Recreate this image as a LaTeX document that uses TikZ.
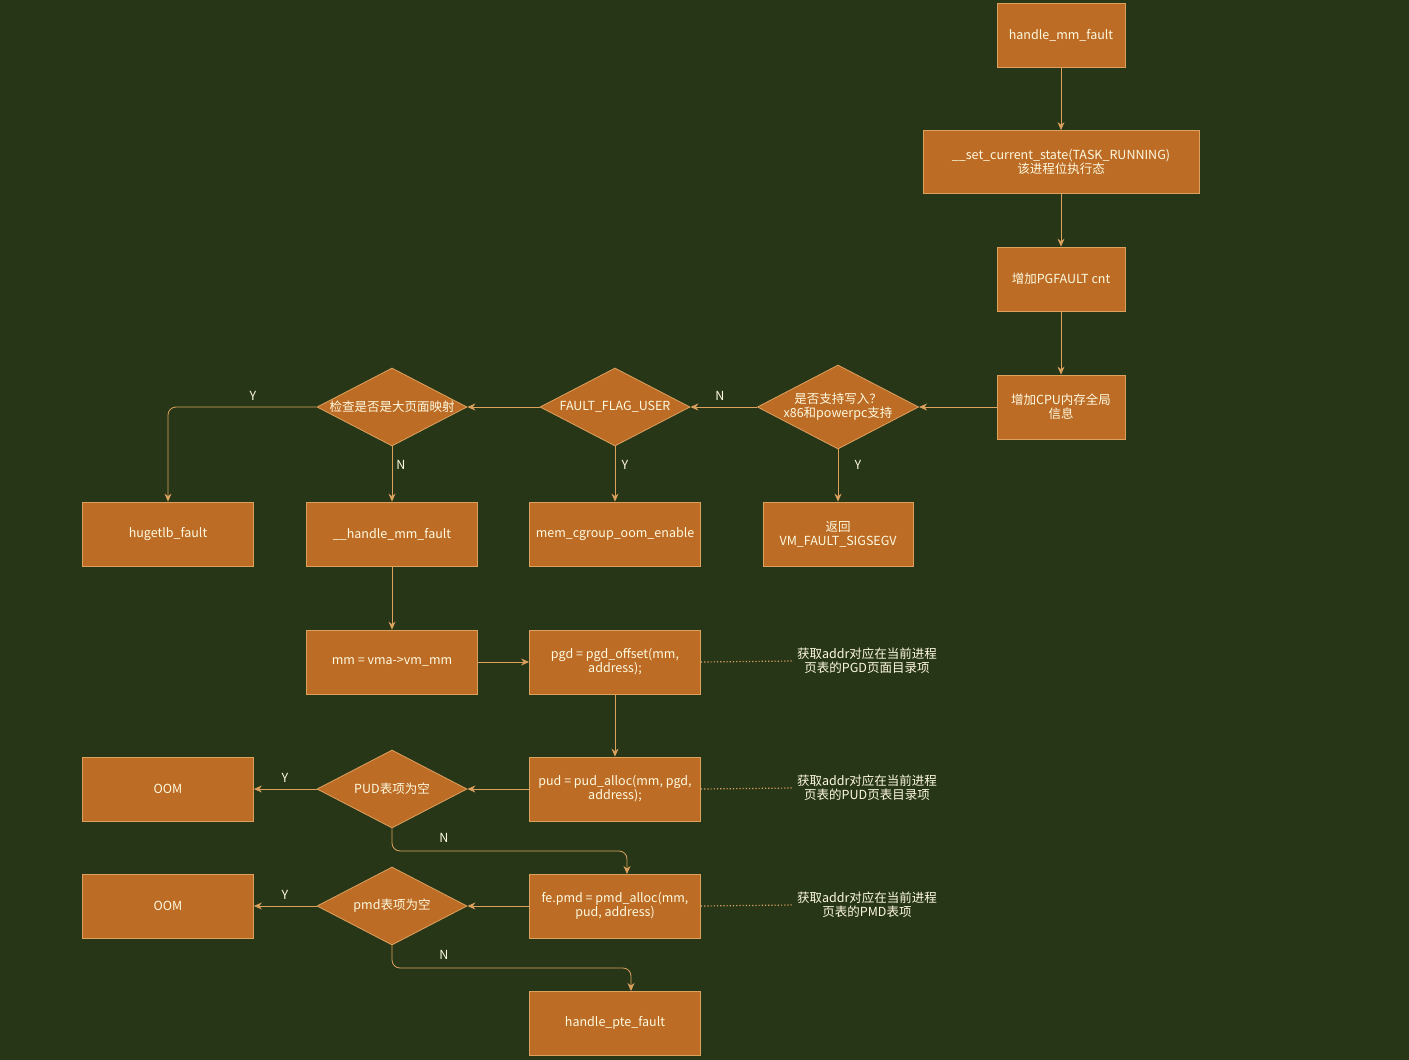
\documentclass[tikz,border=0pt]{standalone}
\usepackage{fontspec}
\setmainfont{Noto Sans CJK SC}
\usetikzlibrary{shapes.geometric,arrows.meta}
\definecolor{bg}{RGB}{40,54,24}
\definecolor{nf}{RGB}{188,108,37}
\definecolor{nd}{RGB}{221,161,94}
\definecolor{tx}{RGB}{254,250,224}
\begin{document}
\begin{tikzpicture}[x=1pt,y=-1pt,
  every node/.style={font=\fontsize{12.5}{14}\selectfont,text=tx,align=center},
  box/.style={draw=nd,fill=nf,line width=0.8pt,minimum width=171pt,minimum height=64pt,inner sep=1pt},
  dia/.style={diamond,draw=nd,fill=nf,line width=0.8pt,minimum width=150pt,minimum height=78pt,aspect=1.92,inner sep=0pt},
  ar/.style={draw=nd,line width=0.8pt,-{Stealth[length=8pt,width=7pt]},rounded corners=8pt},
  lb/.style={font=\fontsize{12.5}{14}\selectfont},
  note/.style={font=\fontsize{12.5}{14}\selectfont}]
\fill[bg] (0,0) rectangle (1409,1060);
\useasboundingbox (0,0) rectangle (1409,1060);
\node[box,minimum width=128pt] (a) at (1061,35) {handle\_mm\_fault};
\node[box,minimum width=276pt,minimum height=63pt] (b) at (1061,162) {\_\_set\_current\_state(TASK\_RUNNING)\\该进程位执行态};
\node[box,minimum width=128pt] (c) at (1061,279) {增加PGFAULT cnt};
\node[box,minimum width=128pt] (d) at (1061,407) {增加CPU内存全局\\信息};
\node[dia] (e) at (838,407) {是否支持写入？\\x86和powerpc支持};
\node[dia] (f) at (615,407) {FAULT\_FLAG\_USER};
\node[dia] (g) at (392,407) {检查是否是大页面映射};
\node[box] (h) at (168,534) {hugetlb\_fault};
\node[box] (i) at (392,534) {\_\_handle\_mm\_fault};
\node[box] (j) at (615,534) {mem\_cgroup\_oom\_enable};
\node[box,minimum width=150pt] (k) at (838,534) {返回\\VM\_FAULT\_SIGSEGV};
\node[box] (l) at (392,662) {mm = vma->vm\_mm};
\node[box] (m) at (615,662) {pgd = pgd\_offset(mm,\\address);};
\node[box] (n) at (615,789) {pud = pud\_alloc(mm, pgd,\\address);};
\node[dia] (o) at (392,789) {PUD表项为空};
\node[box] (p) at (168,789) {OOM};
\node[box] (q) at (615,906) {fe.pmd = pmd\_alloc(mm,\\pud, address)};
\node[dia] (r) at (392,906) {pmd表项为空};
\node[box] (s) at (168,906) {OOM};
\node[box] (t) at (615,1023) {handle\_pte\_fault};
\node[note] (n1) at (867,661) {获取addr对应在当前进程\\页表的PGD页面目录项};
\node[note] (n2) at (867,788) {获取addr对应在当前进程\\页表的PUD页表目录项};
\node[note] (n3) at (867,905) {获取addr对应在当前进程\\页表的PMD表项};
\draw[ar] (a) -- (b);
\draw[ar] (b) -- (c);
\draw[ar] (c) -- (d);
\draw[ar] (d) -- (e);
\draw[ar] (e) -- (f);
\draw[ar] (f) -- (g);
\draw[ar] (g.west) -- (168,407) -- (h.north);
\draw[ar] (g) -- (i);
\draw[ar] (f) -- (j);
\draw[ar] (e) -- (k);
\draw[ar] (i) -- (l);
\draw[ar] (l) -- (m);
\draw[ar] (m) -- (n);
\draw[ar] (n) -- (o);
\draw[ar] (o) -- (p);
\draw[ar] (o.south) -- (392,851) -- (627,851) -- (627,874);
\draw[ar] (q) -- (r);
\draw[ar] (r) -- (s);
\draw[ar] (r.south) -- (392,968) -- (631,968) -- (631,991);
\draw[nd,line width=1.2pt,dotted] (m.east) -- (n1.west);
\draw[nd,line width=1.2pt,dotted] (n.east) -- (n2.west);
\draw[nd,line width=1.2pt,dotted] (q.east) -- (n3.west);
\node[lb] (y1) at (253,396) {Y};
\node[lb] (y2) at (720,396) {N};
\node[lb] (y3) at (401,465) {N};
\node[lb] (y4) at (625,465) {Y};
\node[lb] (y5) at (858,465) {Y};
\node[lb] (y6) at (285,778) {Y};
\node[lb] (y7) at (444,838) {N};
\node[lb] (y8) at (285,895) {Y};
\node[lb] (y9) at (444,955) {N};
\end{tikzpicture}
\end{document}
